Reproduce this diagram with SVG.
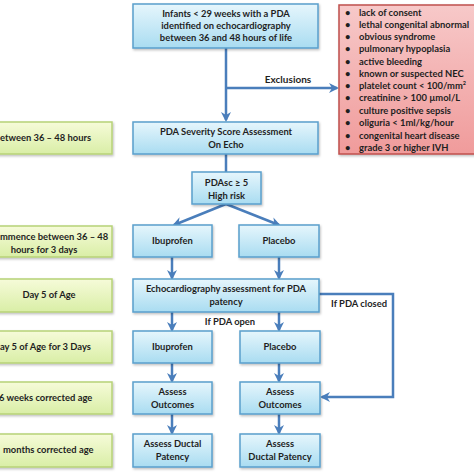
<svg xmlns="http://www.w3.org/2000/svg" width="474" height="474" viewBox="0 0 474 474">
<defs>
<linearGradient id="gBlue" x1="0" y1="0" x2="0" y2="1">
<stop offset="0" stop-color="#e6f6fc"/>
<stop offset="1" stop-color="#a9dcf1"/>
</linearGradient>
<linearGradient id="gGreen" x1="0" y1="0" x2="0" y2="1">
<stop offset="0" stop-color="#f6fbd9"/>
<stop offset="1" stop-color="#d9eea6"/>
</linearGradient>
<linearGradient id="gRed" x1="0" y1="0" x2="0" y2="1">
<stop offset="0" stop-color="#f7c9c9"/>
<stop offset="1" stop-color="#f09b9b"/>
</linearGradient>
<filter id="sh" x="-10%" y="-10%" width="130%" height="140%">
<feDropShadow dx="1" dy="1.5" stdDeviation="1.2" flood-color="#000" flood-opacity="0.25"/>
</filter>
<marker id="arr" viewBox="0 0 10 10" refX="8" refY="5" markerWidth="10" markerHeight="10" markerUnits="userSpaceOnUse" orient="auto">
<path d="M0,0 L10,5 L0,10 L3,5 z" fill="#4a7ebb"/>
</marker>
</defs>
<style>
.blue{fill:url(#gBlue);stroke:#5a9fcc;stroke-width:1.5;filter:url(#sh)}
.green{fill:url(#gGreen);stroke:#b7d277;stroke-width:1.5;filter:url(#sh)}
.red{fill:url(#gRed);stroke:#c0504d;stroke-width:1.5;filter:url(#sh)}
text{font-family:Lato,"Liberation Sans",sans-serif;font-weight:bold;font-size:9.4px;fill:#1f1f1f}
.c{text-anchor:middle}
.ln{fill:none;stroke:#4a7ebb;stroke-width:2.5}
</style>

<g id="connectors">
<line class="ln" x1="226" y1="48" x2="226" y2="120" marker-end="url(#arr)"/>
<line class="ln" x1="226" y1="88" x2="337" y2="88" marker-end="url(#arr)"/>
<line class="ln" x1="226" y1="154" x2="226" y2="172"/>
<line class="ln" x1="226" y1="204" x2="174" y2="225" marker-end="url(#arr)"/>
<line class="ln" x1="226" y1="204" x2="279" y2="225" marker-end="url(#arr)"/>
<line class="ln" x1="172" y1="257" x2="172" y2="278" marker-end="url(#arr)"/>
<line class="ln" x1="279" y1="257" x2="279" y2="278" marker-end="url(#arr)"/>
<line class="ln" x1="172" y1="312" x2="172" y2="330" marker-end="url(#arr)"/>
<line class="ln" x1="279" y1="312" x2="279" y2="330" marker-end="url(#arr)"/>
<line class="ln" x1="172" y1="363" x2="172" y2="381" marker-end="url(#arr)"/>
<line class="ln" x1="279" y1="363" x2="279" y2="381" marker-end="url(#arr)"/>
<line class="ln" x1="172" y1="414" x2="172" y2="433" marker-end="url(#arr)"/>
<line class="ln" x1="279" y1="414" x2="279" y2="433" marker-end="url(#arr)"/>
<polyline class="ln" points="319,294 393,294 393,397 322,397" marker-end="url(#arr)"/>
<text class="c" x="288" y="83" style="font-size:10px">Exclusions</text>
<text class="c" x="230" y="325">If PDA open</text>
<text class="c" x="359" y="307">If PDA closed</text>
</g>

<g id="n-infants">
<rect class="blue" x="133" y="4" width="185" height="44"/>
<text class="c" x="226" y="17">Infants &lt; 29 weeks with a PDA</text>
<text class="c" x="226" y="29">identified on echocardiography</text>
<text class="c" x="226" y="41">between 36 and 48 hours of life</text>
</g>

<g id="n-exclusions">
<rect class="red" x="339" y="5" width="145" height="149"/>
<g>
<text x="345" y="16">•</text><text x="359" y="16">lack of consent</text>
<text x="345" y="28">•</text><text x="359" y="28">lethal congenital abnormal</text>
<text x="345" y="40">•</text><text x="359" y="40">obvious syndrome</text>
<text x="345" y="52">•</text><text x="359" y="52">pulmonary hypoplasia</text>
<text x="345" y="65">•</text><text x="359" y="65">active bleeding</text>
<text x="345" y="77">•</text><text x="359" y="77">known or suspected NEC</text>
<text x="345" y="89">•</text><text x="359" y="89">platelet count &lt; 100/mm<tspan font-size="5.5" dy="-4">2</tspan></text>
<text x="345" y="101">•</text><text x="359" y="101">creatinine &gt; 100 µmol/L</text>
<text x="345" y="114">•</text><text x="359" y="114">culture positive sepsis</text>
<text x="345" y="126">•</text><text x="359" y="126">oliguria &lt; 1ml/kg/hour</text>
<text x="345" y="139">•</text><text x="359" y="139">congenital heart disease</text>
<text x="345" y="151">•</text><text x="359" y="151">grade 3 or higher IVH</text>
</g>
</g>

<g id="t-1">
<rect class="green" x="-30" y="122" width="142" height="32"/>
<text x="0" y="141">etween 36 – 48 hours</text>
</g>
<g id="n-severity">
<rect class="blue" x="133" y="122" width="185" height="32"/>
<text class="c" x="226" y="135">PDA Severity Score Assessment</text>
<text class="c" x="226" y="148">On Echo</text>
</g>

<g id="n-pdasc">
<rect class="blue" x="192" y="172" width="69" height="32"/>
<text class="c" x="226.5" y="186">PDAsc ≥ 5</text>
<text class="c" x="226.5" y="199">High risk</text>
</g>

<g id="t-2">
<rect class="green" x="-30" y="226" width="142" height="31"/>
<text x="0" y="240">mmence between 36 – 48</text>
<text class="c" x="44" y="253">hours for 3 days</text>
</g>
<g id="n-ibu1">
<rect class="blue" x="133" y="225" width="79" height="32"/>
<text class="c" x="172.5" y="244">Ibuprofen</text>
</g>
<g id="n-pla1">
<rect class="blue" x="239" y="225" width="80" height="32"/>
<text class="c" x="279" y="244">Placebo</text>
</g>

<g id="t-3">
<rect class="green" x="-30" y="279" width="142" height="33"/>
<text class="c" x="49" y="298">Day 5 of Age</text>
</g>
<g id="n-echo">
<rect class="blue" x="133" y="279" width="186" height="33"/>
<text class="c" x="226" y="292">Echocardiography assessment for PDA</text>
<text class="c" x="226" y="305">patency</text>
</g>

<g id="t-4">
<rect class="green" x="-30" y="331" width="142" height="32"/>
<text x="0" y="350">ay 5 of Age for 3 Days</text>
</g>
<g id="n-ibu2">
<rect class="blue" x="133" y="331" width="79" height="32"/>
<text class="c" x="172.5" y="350">Ibuprofen</text>
</g>
<g id="n-pla2">
<rect class="blue" x="240" y="331" width="80" height="32"/>
<text class="c" x="280" y="350">Placebo</text>
</g>

<g id="t-5">
<rect class="green" x="-30" y="382" width="142" height="32"/>
<text x="-1" y="401">6 weeks corrected age</text>
</g>
<g id="n-out1">
<rect class="blue" x="133" y="382" width="79" height="32"/>
<text class="c" x="172.5" y="395">Assess</text>
<text class="c" x="172.5" y="408">Outcomes</text>
</g>
<g id="n-out2">
<rect class="blue" x="240" y="382" width="80" height="32"/>
<text class="c" x="280" y="395">Assess</text>
<text class="c" x="280" y="408">Outcomes</text>
</g>

<g id="t-6">
<rect class="green" x="-30" y="434" width="142" height="33"/>
<text x="3" y="453">months corrected age</text>
</g>
<g id="n-duct1">
<rect class="blue" x="133" y="434" width="79" height="33"/>
<text class="c" x="172.5" y="447">Assess Ductal</text>
<text class="c" x="172.5" y="460">Patency</text>
</g>
<g id="n-duct2">
<rect class="blue" x="240" y="434" width="80" height="33"/>
<text class="c" x="280" y="447">Assess</text>
<text class="c" x="280" y="460">Ductal Patency</text>
</g>
</svg>
